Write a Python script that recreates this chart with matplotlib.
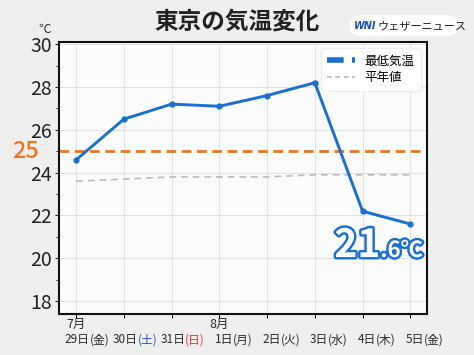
import matplotlib
matplotlib.use("Agg")
import matplotlib.pyplot as plt
import matplotlib.patheffects as pe
from matplotlib.patches import FancyBboxPatch
from matplotlib.lines import Line2D
from matplotlib.transforms import blended_transform_factory, offset_copy

plt.rcParams['font.family'] = ['Noto Sans CJK JP', 'DejaVu Sans']

days = [0, 1, 2, 3, 4, 5, 6, 7]
low_temp = [24.6, 26.5, 27.2, 27.1, 27.6, 28.2, 22.2, 21.6]
normal = [23.6, 23.7, 23.8, 23.8, 23.8, 23.9, 23.9, 23.9]
months = {0: "7月", 3: "8月"}
day_nums = ["29日", "30日", "31日", "1日", "2日", "3日", "4日", "5日"]
weekdays = ["(金)", "(土)", "(日)", "(月)", "(火)", "(水)", "(木)", "(金)"]
wd_colors = ["#2a2a2a", "#2a4fc8", "#e03a3a", "#2a2a2a", "#2a2a2a", "#2a2a2a", "#2a2a2a", "#2a2a2a"]
line25 = 25
last_label_big = "21"
last_label_small = ".6℃"

bg = "#efefef"
blue = "#1a6fcf"
orange = "#e8771f"

fig = plt.figure(figsize=(4.74, 3.55), dpi=100, facecolor=bg)
ax = fig.add_axes([59/474, 1 - 314/355, (427-59)/474, (314-42)/355])
ax.set_facecolor("#fcfcfc")

ax.set_xlim(-0.36, 7.35)
ax.set_ylim(17.4, 30.1)
ax.set_yticks([18, 20, 22, 24, 26, 28, 30])
ax.set_yticks(range(18, 31), minor=True)
ax.set_xticks(days)
ax.grid(True, which="major", color="#e2e2e6", lw=0.8)
ax.set_axisbelow(True)
ax.tick_params(axis="y", labelsize=14, colors="#222222", length=3, pad=2)
ax.tick_params(axis="y", which="minor", length=2)
ax.tick_params(axis="x", length=3, labelbottom=False)
for s in ax.spines.values():
    s.set_linewidth(1.5)
    s.set_color("#111111")

ax.axhline(line25, color=orange, lw=2, ls=(0, (3.5, 2)), zorder=2)
ax.plot(days, normal, color="#bbbbbb", lw=1.2, ls=(0, (4, 3)), zorder=2)
ax.plot(days, low_temp, color=blue, lw=2.1, marker="o", ms=3.5, zorder=3)

# 25 label
ax.text(-0.055, line25, "25", transform=blended_transform_factory(ax.transAxes, ax.transData),
        ha="right", va="center", fontsize=17, color=orange, fontweight="medium")

# legend
handles = [Line2D([0], [0], color=blue, lw=4, ls=(0, (3, 1.5))),
           Line2D([0], [0], color="#bbbbbb", lw=1.2, ls=(0, (3, 2)))]
leg = ax.legend(handles, ["最低気温", "平年値"], loc="upper right", fontsize=9,
                frameon=True, framealpha=1, edgecolor="#eeeeee", handlelength=2.2,
                borderpad=0.5, labelspacing=0.3)

# x labels
bt = blended_transform_factory(ax.transData, fig.transFigure)
for i, d in enumerate(days):
    if i in months:
        ax.text(d, 1 - 324/355, months[i], transform=bt, ha="center", va="center",
                fontsize=9, color="#2a2a2a")
    tr = offset_copy(bt, fig=fig, x=13.5, y=0, units="dots")
    ax.text(d, 1 - 340/355, day_nums[i], transform=tr, ha="right", va="center",
            fontsize=8.5, color="#2a2a2a")
    ax.text(d, 1 - 340/355, weekdays[i], transform=tr, ha="left", va="center",
            fontsize=8.5, color=wd_colors[i])

# big value label
tr = offset_copy(ax.transData, fig=fig, x=-30, y=-33, units="dots")
t1 = ax.text(days[-1], low_temp[-1], last_label_big, transform=tr, ha="right", va="baseline",
             fontsize=28, fontweight="bold", color="white", zorder=5)
t1.set_path_effects([pe.Stroke(linewidth=3.5, foreground=blue), pe.Normal()])
t2 = ax.text(days[-1], low_temp[-1], last_label_small, transform=tr, ha="left", va="baseline",
             fontsize=16, fontweight="bold", color="white", zorder=5)
t2.set_path_effects([pe.Stroke(linewidth=3.5, foreground=blue), pe.Normal()])

# title and unit
fig.text(237/474, 1 - 22/355, "東京の気温変化", ha="center", va="center",
         fontsize=17, fontweight="bold", color="#222222")
fig.text(45/474, 1 - 29/355, "℃", ha="center", va="center", fontsize=9, color="#333333")

# logo
fig.patches.append(FancyBboxPatch((350/474, 1 - 36/355), 108/474, 21/355,
                                  boxstyle="round,pad=0,rounding_size=0.025",
                                  transform=fig.transFigure, fc="white", ec="none"))
fig.text(365/474, 1 - 26/355, "WNI", ha="center", va="center", fontsize=7,
         fontweight="bold", style="italic", color="#1a4fb8", family="DejaVu Sans")
fig.text(378/474, 1 - 26/355, "ウェザーニュース", ha="left", va="center", fontsize=8,
         color="#222222")

fig.savefig("out.png", dpi=100, facecolor=bg)
